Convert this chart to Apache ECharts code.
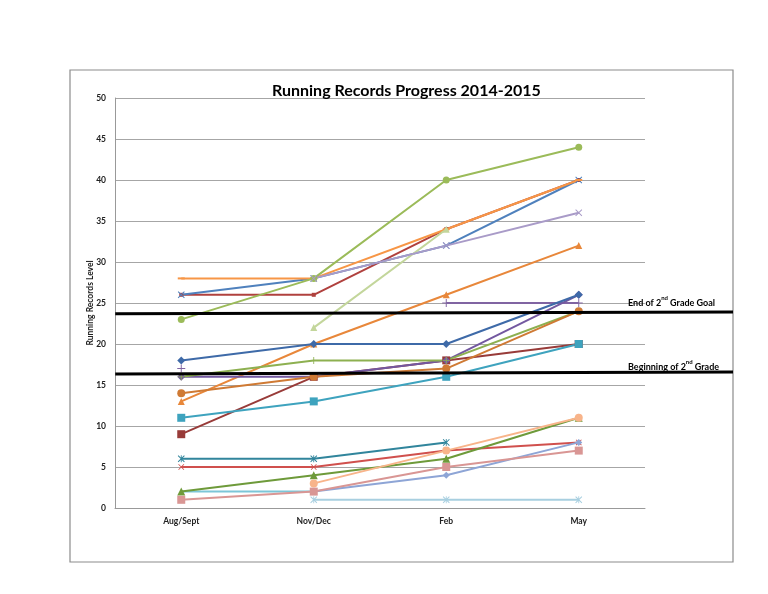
<!DOCTYPE html>
<html lang="en">
<head>
    <meta charset="UTF-8">
    <title>Running Records Progress 2014-2015</title>
    <style>
        body { margin: 0; background: #fff; }
        #chart { width: 768px; height: 594px; }
    </style>
</head>
<body>
    <div id="chart"></div>
    <script src="https://cdn.jsdelivr.net/npm/echarts@6/dist/echarts.min.js"></script>
    <script>
        // reading levels per student, one value per test window
        const categories = ['Aug/Sept', 'Nov/Dec', 'Feb', 'May'];
        const student01 = [23, 28, 40, 44];
        const student02 = [28, 28, 34, 40];
        const student03 = [26, 26, 34, 40];
        const student04 = [26, 28, 32, 40];
        const student05 = [null, 22, 34, null];
        const student06 = [null, 28, 32, 36];
        const student07 = [13, 20, 26, 32];
        const student08 = [17, null, 25, 25];
        const student09 = [9, 16, 18, 20];
        const student10 = [16, 16, 18, 26];
        const student11 = [18, 20, 20, 26];
        const student12 = [16, 18, 18, 24];
        const student13 = [14, 16, 17, 24];
        const student14 = [11, 13, 16, 20];
        const student15 = [6, 6, 8, null];
        const student16 = [5, 5, 7, 8];
        const student17 = [2, 2, null, null];
        const student18 = [null, 2, 4, 8];
        const student19 = [2, 4, 6, 11];
        const student20 = [null, 3, 7, 11];
        const student21 = [1, 2, 5, 7];
        const student22 = [null, 1, 1, 1];

        // reference lines: start / end level, label, label level
        const goalNames = ['End of 2', 'Beginning of 2'];
        const goalTails = [' Grade Goal', ' Grade'];
        const goalFrom = [23.7, 16.35];
        const goalTo = [23.9, 16.6];
        const goalLabelAt = [25.2, 17.4];

        const X = 'path://M0,1L1,0L5,4L9,0L10,1L6,5L10,9L9,10L5,6L1,10L0,9L4,5Z';
        const STAR = 'path://M0,1L1,0L5,4L9,0L10,1L6,5L10,9L9,10L5,6L1,10L0,9L4,5Z M4.4,0H5.6V10H4.4Z';
        const PLUS = 'path://M4.4,0H5.6V4.4H10V5.6H5.6V10H4.4V5.6H0V4.4H4.4Z';

        const looks = [
            [student03, '#B0413E', 'rect', 4],
            [student04, '#4F81BD', X, 7],
            [student02, '#F79646', 'rect', [7, 2]],
            [student01, '#9BBB59', 'circle', 7],
            [student05, '#C3D69B', 'triangle', 7],
            [student06, '#A99BC8', X, 7],
            [student07, '#E8873A', 'triangle', 7],
            [student08, '#8064A2', PLUS, 8],
            [student09, '#983B39', 'rect', 8],
            [student10, '#7358A0', 'diamond', 8],
            [student11, '#3E6AA8', 'diamond', 8],
            [student12, '#8DB050', PLUS, 7],
            [student13, '#CF7A34', 'circle', 8],
            [student14, '#3EA3BE', 'rect', 8],
            [student15, '#31859C', STAR, 7],
            [student16, '#D0504D', X, 6],
            [student17, '#7CC6D8', 'none', 1],
            [student18, '#8EA5D6', 'diamond', 7],
            [student19, '#6E9A3A', 'triangle', 8],
            [student20, '#F8B48A', 'circle', 8],
            [student21, '#D99694', 'rect', 8],
            [student22, '#A8CFE0', STAR, 7]
        ];

        const font = 'Lato';
        const chart = echarts.init(document.getElementById('chart'));

        chart.setOption({
            animation: false,
            title: {
                text: 'Running Records Progress 2014-2015',
                left: 267,
                top: 78,
                textStyle: { fontFamily: font, fontSize: 16, fontWeight: 'bold', color: '#000' }
            },
            grid: { left: 115, right: 123, top: 98, bottom: 86 },
            xAxis: {
                type: 'category',
                data: categories,
                axisLine: { lineStyle: { color: '#999' } },
                axisTick: { show: false },
                axisLabel: { fontFamily: font, fontSize: 8.5, fontWeight: 'bold', color: '#222', margin: 9 }
            },
            yAxis: {
                type: 'value',
                min: 0,
                max: 50,
                interval: 5,
                name: 'Running Records Level',
                nameLocation: 'middle',
                nameGap: 20,
                nameMoveOverlap: false,
                nameTextStyle: { fontFamily: font, fontSize: 8.5, fontWeight: 'bold', color: '#222' },
                axisLine: { show: true, lineStyle: { color: '#999' } },
                axisTick: { show: false },
                axisLabel: { fontFamily: font, fontSize: 8.5, fontWeight: 'bold', color: '#222', margin: 9 },
                splitLine: { lineStyle: { color: '#a6a6a6' } }
            },
            series: looks.map(function (l) {
                return {
                    type: 'line',
                    data: l[0],
                    symbol: l[2],
                    symbolSize: l[3],
                    showAllSymbol: true,
                    lineStyle: { color: l[1], width: 2 },
                    itemStyle: { color: l[1] }
                };
            })
        });

        // frame, reference lines and their labels, placed through the y scale
        const left = chart.convertToPixel({ xAxisIndex: 0 }, 'Aug/Sept') - 66;
        const graphics = [{
            type: 'rect',
            shape: { x: 70, y: 70, width: 663, height: 492 },
            style: { fill: 'none', stroke: '#8c8c8c', lineWidth: 1.2 },
            z: 0
        }];
        goalNames.forEach(function (name, i) {
            const y1 = chart.convertToPixel({ yAxisIndex: 0 }, goalFrom[i]);
            const y2 = chart.convertToPixel({ yAxisIndex: 0 }, goalTo[i]);
            const ty = chart.convertToPixel({ yAxisIndex: 0 }, goalLabelAt[i]);
            graphics.push({
                type: 'line',
                shape: { x1: left, y1: y1, x2: 733, y2: y2 },
                style: { stroke: '#000', lineWidth: 3 },
                z: 50
            });
            graphics.push({
                type: 'text',
                x: 628,
                y: ty,
                style: {
                    text: '{b|' + name + '}{s|nd}{b|' + goalTails[i] + '}',
                    verticalAlign: 'middle',
                    rich: {
                        b: { fontFamily: font, fontSize: 9, fontWeight: 'bold', color: '#222', lineHeight: 12, verticalAlign: 'bottom' },
                        s: { fontFamily: font, fontSize: 6, fontWeight: 'bold', color: '#222', verticalAlign: 'top', lineHeight: 12 }
                    }
                },
                z: 50
            });
        });
        chart.setOption({ graphic: graphics });
    </script>
</body>
</html>
